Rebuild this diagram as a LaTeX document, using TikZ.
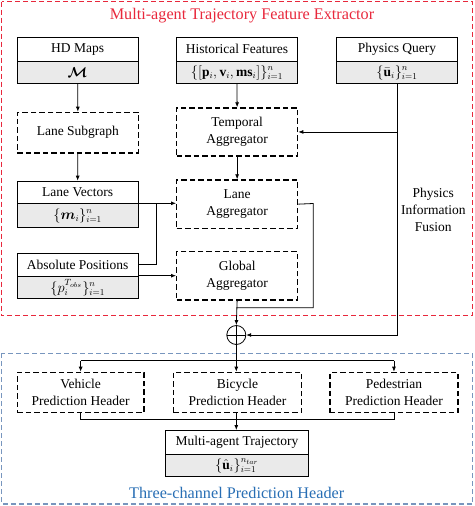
\documentclass[tikz,border=0pt]{standalone}
\usepackage{amsmath,bm}
\usepackage{fontspec}
\setmainfont{Liberation Serif}
\usetikzlibrary{arrows.meta}
\definecolor{boxgray}{RGB}{234,234,234}
\definecolor{redline}{RGB}{232,40,60}
\definecolor{blueline}{RGB}{120,150,190}
\definecolor{bluetext}{RGB}{40,110,180}
\begin{document}
\begin{tikzpicture}[x=1pt,y=-1pt,
  topbox/.style={draw, line width=0.9pt, minimum width=121pt, minimum height=24pt, inner sep=0pt, anchor=north west, font=\fontsize{13.5}{16}\selectfont},
  botbox/.style={topbox, fill=boxgray, minimum height=22.6pt},
  aggbox/.style={draw, dash pattern=on 5.5pt off 3pt, line width=1.3pt, inner sep=0pt, anchor=north west, align=center, minimum width=121pt, font=\fontsize{13.5}{16.7}\selectfont},
  arr/.style={-{Latex[length=5pt,width=4pt]}, line width=0.8pt},
  ln/.style={line width=0.8pt},
  frame/.style={dash pattern=on 5pt off 3pt, line width=1.4pt}]
\useasboundingbox (0,0) rectangle (474,506);
% frames
\draw[frame, redline] (1.5,1.5) rectangle (472.5,315.7);
\draw[frame, blueline] (1.5,353.3) rectangle (472.5,504);
\node[text=redline, font=\fontsize{16.2}{18}\selectfont] (t1) at (242,16) {Multi-agent Trajectory Feature Extractor};
\node[text=bluetext, font=\fontsize{16.2}{18}\selectfont] (t2) at (236.7,492.5) {Three-channel Prediction Header};
% inputs
\node[topbox] (hd) at (16.7,36.7) {HD Maps};
\node[botbox] (hdv) at (16.7,60.7) {$\bm{\mathcal{M}}$};
\node[topbox] (hist) at (176,36.7) {Historical Features};
\node[botbox] (histv) at (176,60.7) {$\{[\mathbf{p}_i,\mathbf{v}_i,\mathbf{ms}_i]\}_{i=1}^{n}$};
\node[topbox] (phys) at (336,36.7) {Physics Query};
\node[botbox] (physv) at (336,60.7) {$\{\bar{\mathbf{u}}_i\}_{i=1}^{n}$};
% middle
\node[aggbox, minimum height=40.6pt] (lsg) at (16.7,111.7) {Lane Subgraph};
\node[aggbox, minimum height=48pt] (temp) at (176,107.3) {Temporal\\Aggregator};
\node[topbox, minimum height=22.6pt] (lv) at (16.7,180.7) {Lane Vectors};
\node[botbox, minimum height=23.4pt] (lvb) at (16.7,203.3) {$\{\bm{m}_i\}_{i=1}^{n}$};
\node[aggbox, minimum height=48.4pt] (lagg) at (176,179.3) {Lane\\Aggregator};
\node[topbox, minimum height=23pt] (ap) at (16.7,252.7) {Absolute Positions};
\node[botbox] (apb) at (16.7,275.7) {$\{p_i^{T_{obs}}\}_{i=1}^{n}$};
\node[aggbox, minimum height=48.3pt] (gagg) at (176,251) {Global\\Aggregator};
\node[align=center, font=\fontsize{13.5}{17}\selectfont] (pif) at (433.3,210) {Physics\\Information\\Fusion};
% oplus
\node[circle, draw, line width=0.8pt, minimum size=19pt, inner sep=0pt,
  path picture={\draw[line width=0.8pt] (path picture bounding box.north) -- (path picture bounding box.south) (path picture bounding box.west) -- (path picture bounding box.east);}] (op) at (236.3,335) {};
% headers
\node[aggbox, minimum width=126.6pt, minimum height=40.3pt] (veh) at (16.7,371.7) {Vehicle\\Prediction Header};
\node[aggbox, minimum width=128.3pt, minimum height=40.3pt] (bic) at (172.7,371.7) {Bicycle\\Prediction Header};
\node[aggbox, minimum width=128pt, minimum height=40.3pt] (ped) at (329.3,371.7) {Pedestrian\\Prediction Header};
\node[topbox, minimum width=142.4pt] (mat) at (165.3,430) {Multi-agent Trajectory};
\node[botbox, minimum width=142.4pt, minimum height=22pt] (matv) at (165.3,454) {$\{\hat{\mathbf{u}}_i\}_{i=1}^{n_{tar}}$};
% connectors
\coordinate (j) at (156.7,203.3);
\coordinate (k) at (236.3,307.7);
\coordinate (r) at (313.3,203.5);
\coordinate (bl) at (236.3,360.7);
\coordinate (bb) at (236.3,419);
\draw[arr] (hdv.south) -- (lsg.north);
\draw[arr] (lsg.south) -- (lv.north);
\draw[arr] (histv.south) -- (temp.north);
\draw[arr] (physv.south) |- (op.east);
\draw[arr] (physv.south |- temp.east) -- (temp.east);
\draw[arr] (temp.south) -- (lagg.north);
\draw[arr] (lvb.north east) -- (lagg.west |- lvb.north east);
\draw[ln] (ap.east) -| (j);
\draw[arr] (apb.north east) -- (gagg.west |- apb.north east);
\draw[ln] (lagg.east) -- (r) |- (k);
\draw[arr] (gagg.south) -- (op.north);
\draw[ln] (op.south) -- (bl);
\draw[ln] (veh.north |- bl) -- (ped.north |- bl);
\draw[arr] (veh.north |- bl) -- (veh.north);
\draw[arr] (bl) -- (bic.north -| bl);
\draw[arr] (ped.north |- bl) -- (ped.north);
\draw[ln] (veh.south) -- (veh.south |- bb) -- (ped.south |- bb) -- (ped.south);
\draw[ln] (bic.south -| bb) -- (bb);
\draw[arr] (bb) -- (mat.north -| bb);
\end{tikzpicture}
\end{document}
